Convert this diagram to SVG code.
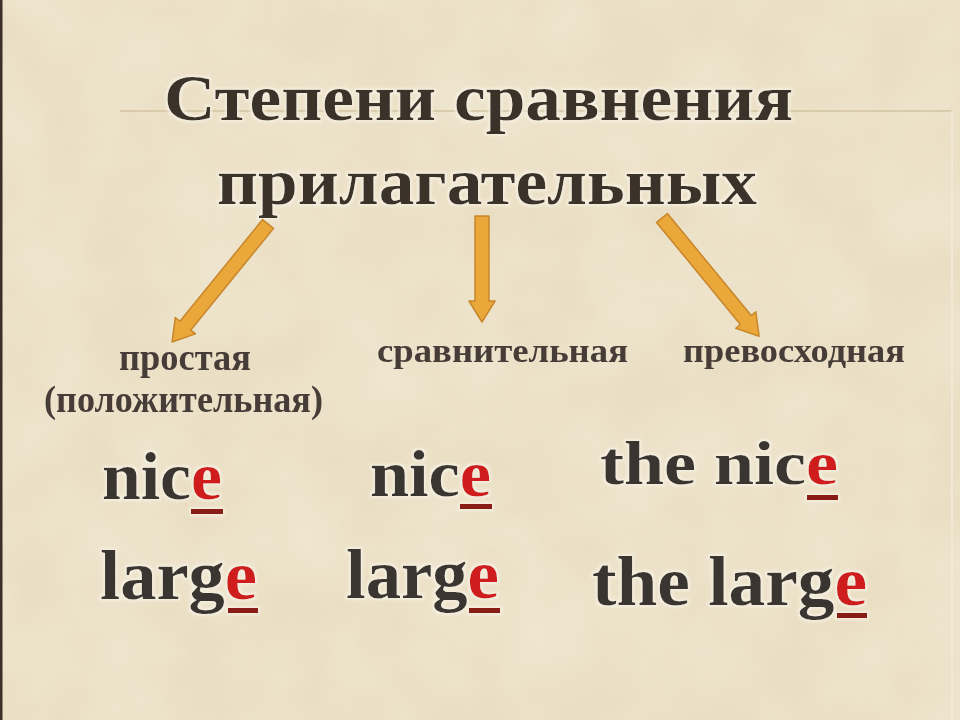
<svg xmlns="http://www.w3.org/2000/svg" width="960" height="720" viewBox="0 0 960 720">
  <defs>
    <style>
      .title { font-family: "Liberation Serif", "Times New Roman", serif; font-weight: bold; font-size: 66px; fill: #3b312b; }
      .label { font-family: "Liberation Serif", "Times New Roman", serif; font-weight: bold; fill: #463e39; }
      .word { font-family: "Liberation Serif", "Times New Roman", serif; font-weight: bold; fill: #3a3531; }
      .red { fill: #cf1b1b; }
      .uline { fill: #8a1a12; }
      .arrow { fill: #eaa73a; stroke: #c8862a; stroke-width: 1.5; stroke-linejoin: round; }
    </style>
    <filter id="paper" x="0" y="0" width="100%" height="100%">
      <feTurbulence type="fractalNoise" baseFrequency="0.012" numOctaves="3" seed="7" result="n"/>
      <feColorMatrix in="n" type="matrix" values="0 0 0 0 0.98  0 0 0 0 0.95  0 0 0 0 0.88  0 0 0 0.9 -0.25" result="c"/>
      <feComposite in="c" in2="SourceGraphic" operator="in"/>
    </filter>
    <filter id="soft" x="-5%" y="-20%" width="110%" height="140%">
      <feGaussianBlur stdDeviation="0.5"/>
    </filter>
    <filter id="halo" x="-5%" y="-20%" width="110%" height="140%">
      <feMorphology in="SourceAlpha" operator="dilate" radius="1.5" result="d"/>
      <feFlood flood-color="#f6f0e2" flood-opacity="0.8"/>
      <feComposite in2="d" operator="in" result="h"/>
      <feGaussianBlur in="h" stdDeviation="1" result="hb"/>
      <feMerge><feMergeNode in="hb"/><feMergeNode in="SourceGraphic"/></feMerge>
    </filter>
  </defs>

  <!-- parchment background -->
  <rect x="0" y="0" width="960" height="720" fill="#eadfc4"/>
  <rect x="0" y="0" width="960" height="720" fill="#ffffff" filter="url(#paper)" opacity="0.5"/>
  <rect x="0" y="0" width="2.5" height="720" fill="#3a3028"/>
  <line x1="120" y1="111" x2="953" y2="111" stroke="#cdbc98" stroke-width="1.5" opacity="0.8"/>
  <line x1="952" y1="111" x2="952" y2="720" stroke="#f3ecdc" stroke-width="2" opacity="0.8"/>

  <g id="title" filter="url(#halo)">
    <text class="title" x="164" y="120" textLength="629" lengthAdjust="spacingAndGlyphs">Степени сравнения</text>
    <text class="title" x="217" y="204" textLength="540" lengthAdjust="spacingAndGlyphs">прилагательных</text>
  </g>

  <g id="connectors">
    <path class="arrow" transform="translate(268,224) rotate(129.1)" d="M0,-7 L131,-7 L131,-13 L152,0 L131,13 L131,7 L0,7 Z"/>
    <path class="arrow" transform="translate(482,216) rotate(90)" d="M0,-7 L85,-7 L85,-13 L106,0 L85,13 L85,7 L0,7 Z"/>
    <path class="arrow" transform="translate(662,218) rotate(50.6)" d="M0,-7 L132,-7 L132,-13 L153,0 L132,13 L132,7 L0,7 Z"/>
  </g>

  <g id="node-positive" filter="url(#soft)">
    <text class="label" x="119" y="370" font-size="38" textLength="132" lengthAdjust="spacingAndGlyphs">простая</text>
    <text class="label" x="44" y="412" font-size="38" textLength="279" lengthAdjust="spacingAndGlyphs">(положительная)</text>
  </g>
  <g id="node-comparative" filter="url(#soft)">
    <text class="label" x="377" y="362" font-size="34" textLength="251" lengthAdjust="spacingAndGlyphs">сравнительная</text>
  </g>
  <g id="node-superlative" filter="url(#soft)">
    <text class="label" x="683" y="362" font-size="34" textLength="222" lengthAdjust="spacingAndGlyphs">превосходная</text>
  </g>

  <g id="word-nice-1" filter="url(#halo)">
    <text class="word" x="102" y="499" font-size="68" textLength="120" lengthAdjust="spacingAndGlyphs">nic<tspan class="red">e</tspan></text>
    <rect class="uline" x="191" y="509" width="32" height="5"/>
  </g>
  <g id="word-nice-2" filter="url(#halo)">
    <text class="word" x="370" y="496" font-size="66" textLength="121" lengthAdjust="spacingAndGlyphs">nic<tspan class="red">e</tspan></text>
    <rect class="uline" x="460" y="504" width="32" height="5"/>
  </g>
  <g id="word-nice-3" filter="url(#halo)">
    <text class="word" x="600" y="484" font-size="62" textLength="238" lengthAdjust="spacingAndGlyphs">the nic<tspan class="red">e</tspan></text>
    <rect class="uline" x="807" y="495" width="31" height="5"/>
  </g>
  <g id="word-large-1" filter="url(#halo)">
    <text class="word" x="100" y="599" font-size="70" textLength="157" lengthAdjust="spacingAndGlyphs">larg<tspan class="red">e</tspan></text>
    <rect class="uline" x="228" y="608" width="30" height="5"/>
  </g>
  <g id="word-large-2" filter="url(#halo)">
    <text class="word" x="346" y="598" font-size="70" textLength="153" lengthAdjust="spacingAndGlyphs">larg<tspan class="red">e</tspan></text>
    <rect class="uline" x="469" y="608" width="31" height="5"/>
  </g>
  <g id="word-large-3" filter="url(#halo)">
    <text class="word" x="592" y="605" font-size="70" textLength="275" lengthAdjust="spacingAndGlyphs">the larg<tspan class="red">e</tspan></text>
    <rect class="uline" x="837" y="613" width="30" height="5"/>
  </g>
</svg>
